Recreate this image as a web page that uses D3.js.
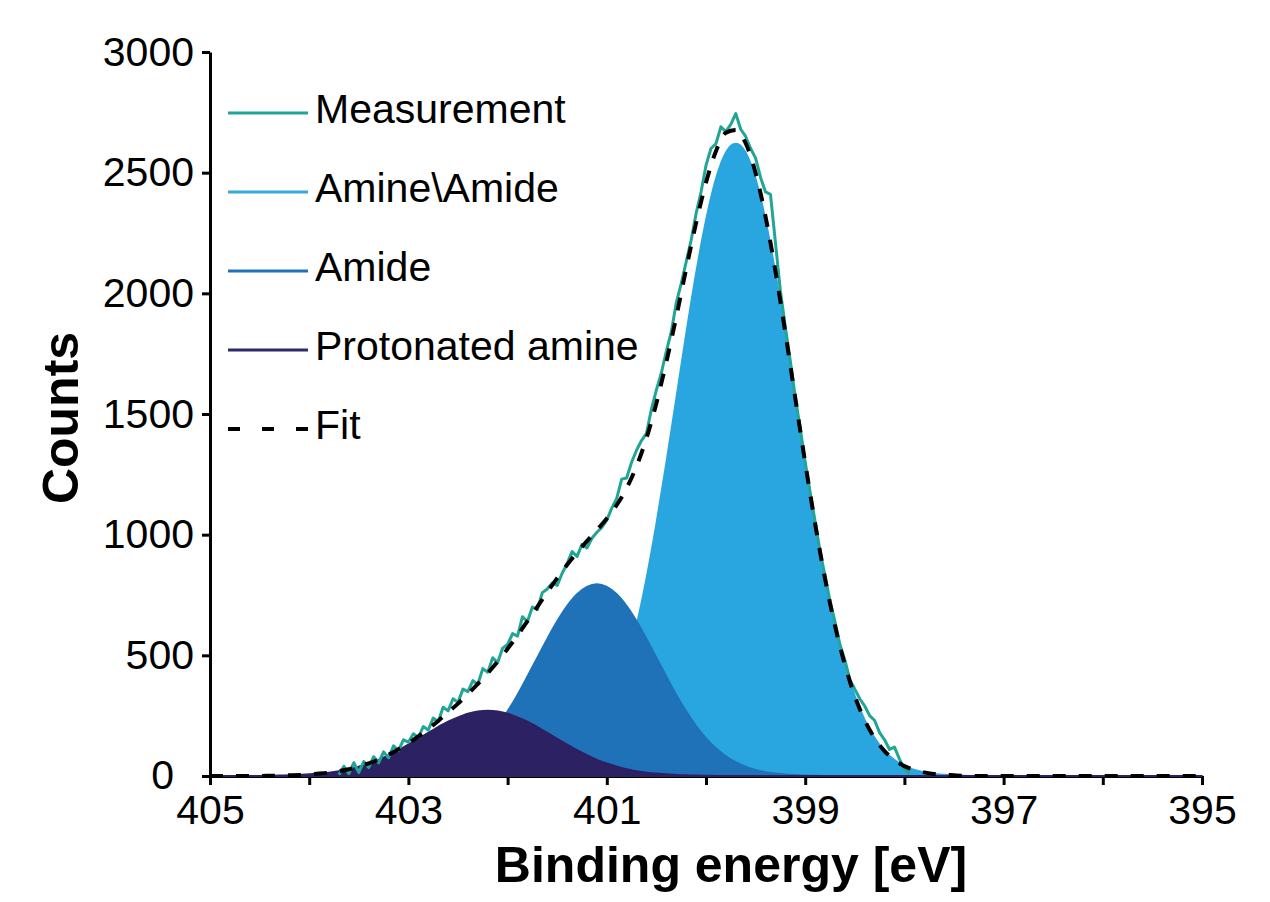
<!DOCTYPE html>
<html>
<head>
<meta charset="utf-8">
<script src="https://cdn.jsdelivr.net/npm/d3@7"></script>
<style>
  body { margin: 0; background: #fff; }
  .chart text { font-family: "Liberation Sans", Arial, sans-serif; fill: #000; }
</style>
</head>
<body>
<div class="chart"></div>
<script>
// energy grid for the fitted components: 405.0 -> 395.0 eV, step 0.1
const gridStart = 405.0, gridStep = 0.1;

const protonated = [
  0, 0, 0, 0, 0, 0,
  1, 2, 3, 4, 7, 10, 14, 20, 28, 39, 52, 67, 86, 107, 130, 154, 179, 203, 225, 243, 258, 267,
  270, 267, 258, 243, 225, 203, 179, 154, 130, 107, 86, 67, 52, 39, 28, 20, 14, 10, 7, 4, 3, 2, 1,
  0, 0, 0, 0, 0, 0, 0, 0, 0, 0, 0, 0, 0, 0, 0, 0, 0, 0, 0, 0, 0, 0, 0, 0, 0,
  0, 0, 0, 0, 0, 0, 0, 0, 0, 0, 0, 0, 0, 0, 0, 0, 0, 0, 0, 0, 0, 0, 0, 0, 0
];

const amide = [
  0, 0, 0, 0, 0, 0, 0, 0, 0, 0, 0, 0, 0, 0, 0, 0, 0,
  1, 2, 4, 6, 10, 16, 25, 39, 57, 82, 115, 156, 207, 268, 336, 412, 490, 568, 641, 704, 753, 784,
  795, 784, 753, 704, 641, 568, 490, 412, 336, 268, 207, 156, 115, 82, 57, 39, 25, 16, 10, 6, 4, 2, 1,
  0, 0, 0, 0, 0, 0, 0, 0, 0, 0, 0, 0, 0, 0, 0, 0, 0, 0, 0, 0,
  0, 0, 0, 0, 0, 0, 0, 0, 0, 0, 0, 0, 0, 0, 0, 0, 0, 0, 0
];

const amineAmide = [
  0, 0, 0, 0, 0, 0, 0, 0, 0, 0, 0, 0, 0, 0, 0, 0, 0, 0, 0, 0, 0, 0, 0, 0, 0, 0, 0, 0, 0, 0,
  1, 3, 5, 8, 15, 25, 41, 66, 103, 157, 231, 331, 461, 623, 818, 1045, 1296, 1562, 1830, 2082, 2302, 2474, 2583,
  2620, 2583, 2474, 2302, 2082, 1830, 1562, 1296, 1045, 818, 623, 461, 331, 231, 157, 103, 66, 41, 25, 15, 8, 5, 3, 1,
  0, 0, 0, 0, 0, 0, 0, 0, 0, 0, 0, 0, 0, 0, 0, 0, 0, 0, 0, 0, 0, 0, 0, 0
];

const fit = [
  0, 0, 0, 0, 0, 0,
  1, 2, 3, 4, 7, 10, 14, 20, 28, 39, 52, 68, 88, 111, 136, 164, 195, 228, 264, 300, 340, 382, 426, 474,
  527, 582, 642, 701, 762, 820, 875, 926, 973, 1019, 1067, 1123, 1193, 1284, 1400, 1545, 1715, 1902, 2101, 2291,
  2459, 2589, 2665, 2677, 2622, 2499, 2318, 2092, 1836, 1566, 1298, 1046, 818, 623, 461, 331, 231, 157, 103, 66,
  41, 25, 15, 8, 5, 3, 1,
  0, 0, 0, 0, 0, 0, 0, 0, 0, 0, 0, 0, 0, 0, 0, 0, 0, 0, 0, 0, 0, 0, 0, 0
];

// measured spectrum: 403.70 -> 397.95 eV, step 0.05
const measStart = 403.7, measStep = 0.05;
const measurement = [
  5, 40, 10, 55, 15, 60, 35, 80, 55, 100, 75, 125, 105, 150, 140, 175, 160, 205, 190, 240,
  225, 285, 270, 320, 305, 360, 350, 395, 380, 445, 430, 490, 470, 530, 545, 590, 580, 660, 640, 700,
  690, 760, 775, 800, 790, 840, 880, 930, 910, 960, 945, 985, 1010, 1030, 1060, 1110, 1150, 1230, 1235, 1300,
  1350, 1390, 1420, 1520, 1600, 1670, 1760, 1840, 1960, 2040, 2130, 2220, 2330, 2420, 2530, 2600, 2620, 2690, 2670, 2700,
  2745, 2680, 2650, 2600, 2560, 2480, 2420, 2410, 2210, 2010, 1860, 1720, 1570, 1440, 1300, 1175, 1055, 930, 830, 725,
  640, 545, 480, 400, 360, 320, 290, 250, 230, 180, 150, 110, 120, 70, 30, 10
];

const yTicks = [0, 500, 1000, 1500, 2000, 2500, 3000];
const xTicks = [405, 404, 403, 402, 401, 400, 399, 398, 397, 396, 395];
const xLabels = [405, 403, 401, 399, 397, 395];

const legendNames = ['Measurement', 'Amine\\Amide', 'Amide', 'Protonated amine', 'Fit'];
const colors = {
  measurement: '#21a596',
  amineAmide: '#29a6df',
  amide: '#1f72b8',
  protonated: '#2b2163',
  fit: '#000000'
};
const legendColors = [colors.measurement, '#36aadc', '#2172b8', '#2d2a6a', colors.fit];

const width = 1270, height = 902;
const svg = d3.select('.chart')
  .append('svg')
  .attr('width', width)
  .attr('height', height);

const x = d3.scaleLinear().domain([405, 395]).range([210, 1202]);
const y = d3.scaleLinear().domain([0, 3000]).range([776, 52]);

const grid = amineAmide.map((d, i) => +(gridStart - i * gridStep).toFixed(2));
const toPoints = vals => vals.map((v, i) => ({e: grid[i], v: v}));
const measPoints = measurement.map((v, i) => ({e: +(measStart - i * measStep).toFixed(2), v: v}));

// axes
const xAxis = d3.axisBottom(x)
  .tickValues(xTicks)
  .tickSize(9)
  .tickSizeOuter(0)
  .tickPadding(10)
  .tickFormat(d => xLabels.includes(d) ? d : '');
const yAxis = d3.axisLeft(y)
  .tickValues(yTicks)
  .tickSize(8)
  .tickSizeOuter(0)
  .tickPadding(8)
  .tickFormat(d3.format('d'));

const gx = svg.append('g')
  .attr('class', 'axis x-axis')
  .attr('transform', `translate(0,${y(0)})`)
  .call(xAxis);
const gy = svg.append('g')
  .attr('class', 'axis y-axis')
  .attr('transform', `translate(${x(405)},0)`)
  .call(yAxis);

[gx, gy].forEach(g => {
  g.select('.domain').attr('stroke', '#000').attr('stroke-width', 3);
  g.selectAll('.tick line').attr('stroke', '#000').attr('stroke-width', 3);
  g.selectAll('.tick text').style('font-size', '41px').attr('fill', '#000');
});
// the "0" label sits a little further left, clear of "405"
gy.selectAll('.tick text').filter(d => d === 0).attr('x', -36).attr('dy', '0.3em');

// fitted components
const area = d3.area()
  .x(d => x(d.e))
  .y0(y(0))
  .y1(d => y(d.v))
  .curve(d3.curveMonotoneX);

[[amineAmide, colors.amineAmide], [amide, colors.amide], [protonated, colors.protonated]].forEach(([vals, c]) => {
  svg.append('path')
    .datum(toPoints(vals))
    .attr('d', area)
    .attr('fill', c)
    .attr('stroke', c)
    .attr('stroke-width', 2);
});

const line = d3.line()
  .x(d => x(d.e))
  .y(d => y(d.v));

svg.append('path')
  .datum(measPoints)
  .attr('d', line)
  .attr('fill', 'none')
  .attr('stroke', colors.measurement)
  .attr('stroke-width', 3)
  .attr('stroke-linejoin', 'round');

svg.append('path')
  .datum(toPoints(fit))
  .attr('d', line.curve(d3.curveMonotoneX))
  .attr('fill', 'none')
  .attr('stroke', colors.fit)
  .attr('stroke-width', 4)
  .attr('stroke-dasharray', '13,13');

// legend
const legend = svg.append('g').attr('class', 'legend');
legendNames.forEach((name, i) => {
  const ly = 113 + i * 79;
  legend.append('line')
    .attr('x1', 228).attr('x2', 308)
    .attr('y1', ly).attr('y2', ly)
    .attr('stroke', legendColors[i])
    .attr('stroke-width', name === 'Fit' ? 4 : 3)
    .attr('stroke-dasharray', name === 'Fit' ? '12,22' : null);
  legend.append('text')
    .attr('x', 315)
    .attr('y', ly + 10)
    .style('font-size', '41px')
    .text(name);
});

// axis titles
svg.append('text')
  .attr('x', 731)
  .attr('y', 882)
  .attr('text-anchor', 'middle')
  .style('font-size', '50px')
  .style('font-weight', 'bold')
  .text('Binding energy [eV]');

svg.append('text')
  .attr('transform', 'rotate(-90)')
  .attr('x', -418)
  .attr('y', 78)
  .attr('text-anchor', 'middle')
  .style('font-size', '50px')
  .style('font-weight', 'bold')
  .text('Counts');
</script>
</body>
</html>
